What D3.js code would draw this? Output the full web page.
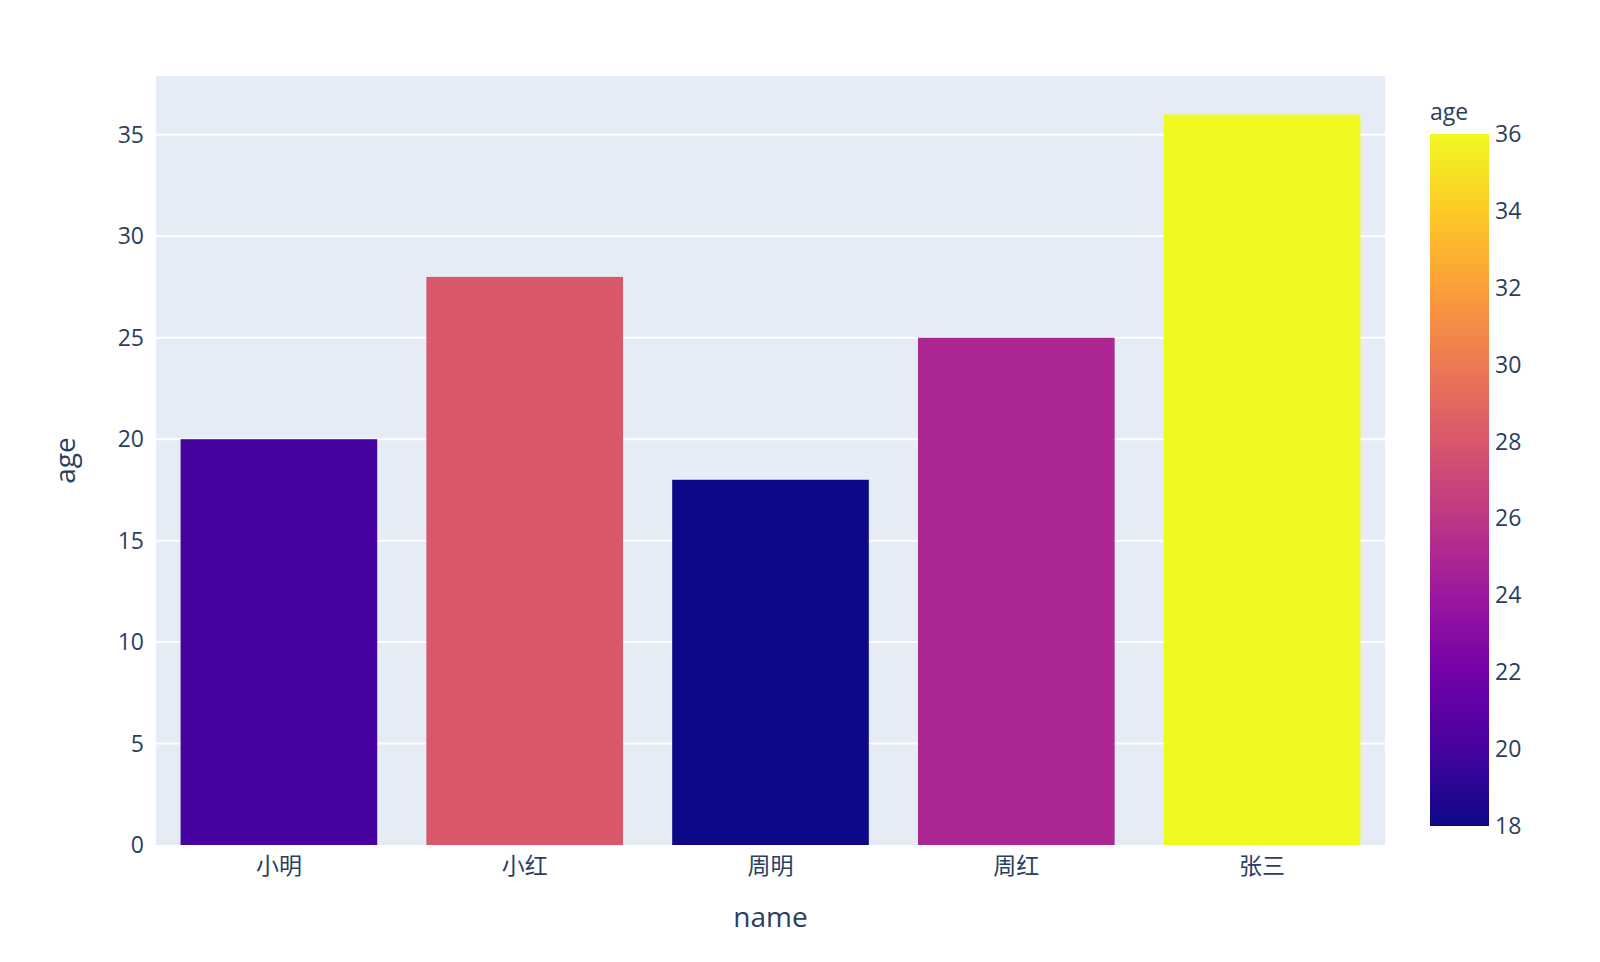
<!DOCTYPE html>
<html><head><meta charset="utf-8">
<script src="https://cdn.jsdelivr.net/npm/d3@7.9.0/dist/d3.min.js"></script>
<style>body{margin:0;background:#fff;font-family:"Open Sans","Noto Sans CJK SC",sans-serif;}</style>
</head><body><svg width="1600" height="962"></svg>
<script>
const names = ['小明', '小红', '周明', '周红', '张三'];
const ages = [20, 28, 18, 25, 36];
const yTicks = [0, 5, 10, 15, 20, 25, 30, 35];
const cbTicks = [18, 20, 22, 24, 26, 28, 30, 32, 34, 36];
const plasma = ["#0d0887","#46039f","#7201a8","#9c179e","#bd3786","#d8576b","#ed7953","#fb9f3a","#fdca26","#f0f921"];

const svg = d3.select('svg');
const L = 156, R = 1385, T = 76, B = 845;
const txt = '#2a3f5f';
const font = '"Open Sans","Noto Sans CJK SC",sans-serif';

const x = d3.scaleBand().domain(names).range([L, R]).paddingInner(0.2).paddingOuter(0.1);
const y = d3.scaleLinear().domain([0, 37.9]).range([B, T]);
const cmin = d3.min(ages), cmax = d3.max(ages);
const color = d3.scaleLinear()
  .domain(plasma.map((_, i) => cmin + (cmax - cmin) * i / (plasma.length - 1)))
  .range(plasma);

svg.append('rect').attr('x', L).attr('y', T).attr('width', R - L).attr('height', B - T).attr('fill', '#e5ecf6');

svg.append('g').selectAll('line').data(yTicks.filter(d => d > 0)).join('line')
  .attr('x1', L).attr('x2', R).attr('y1', d => y(d)).attr('y2', d => y(d))
  .attr('stroke', '#fff').attr('stroke-width', 2);

svg.append('g').selectAll('rect').data(names).join('rect')
  .attr('x', d => x(d)).attr('width', x.bandwidth())
  .attr('y', (d, i) => y(ages[i])).attr('height', (d, i) => B - y(ages[i]))
  .attr('fill', (d, i) => color(ages[i]));

svg.append('g').selectAll('text').data(yTicks).join('text')
  .attr('x', L - 12).attr('y', d => y(d)).attr('dy', '0.35em')
  .attr('text-anchor', 'end').attr('font-size', 23).attr('font-family', font).attr('fill', txt)
  .text(d => d);

svg.append('g').selectAll('text').data(names).join('text')
  .attr('x', d => x(d) + x.bandwidth() / 2).attr('y', B + 29)
  .attr('text-anchor', 'middle').attr('font-size', 23).attr('font-family', font).attr('fill', txt)
  .text(d => d);

svg.append('text').attr('x', (L + R) / 2).attr('y', 927).attr('text-anchor', 'middle')
  .attr('font-size', 28).attr('font-family', font).attr('fill', txt).text('name');
svg.append('text').attr('transform', `translate(75,${(T + B) / 2}) rotate(-90)`).attr('text-anchor', 'middle')
  .attr('font-size', 28).attr('font-family', font).attr('fill', txt).text('age');

// colorbar
const cbX = 1430, cbW = 59, cbT = 134, cbB = 826;
const cy = d3.scaleLinear().domain([cmin, cmax]).range([cbB, cbT]);
const grad = svg.append('defs').append('linearGradient').attr('id', 'cb')
  .attr('x1', 0).attr('x2', 0).attr('y1', 1).attr('y2', 0);
plasma.forEach((c, i) => grad.append('stop').attr('offset', i / (plasma.length - 1)).attr('stop-color', c));
svg.append('rect').attr('x', cbX).attr('y', cbT).attr('width', cbW).attr('height', cbB - cbT).attr('fill', 'url(#cb)');
svg.append('g').selectAll('text').data(cbTicks).join('text')
  .attr('x', cbX + cbW + 6).attr('y', d => cy(d)).attr('dy', '0.35em')
  .attr('font-size', 23).attr('font-family', font).attr('fill', txt).text(d => d);
svg.append('text').attr('x', cbX).attr('y', 120).attr('font-size', 23).attr('font-family', font).attr('fill', txt).text('age');
</script></body></html>
